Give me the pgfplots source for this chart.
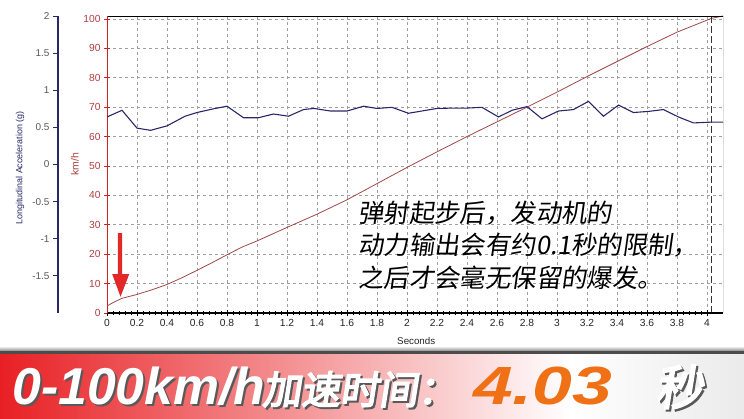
\documentclass[border=0pt]{standalone}
\usepackage{pgfplots}
\usepackage{pgfplotstable}
\pgfplotsset{compat=1.18}
\usepackage{fontspec}
\setmainfont{Liberation Sans}
\newfontfamily\cjkit[FakeSlant=0.14]{Noto Sans CJK SC}
\newfontfamily\cjkbold[FakeSlant=0.16,FakeBold=4]{Noto Sans CJK SC}
\definecolor{navyline}{RGB}{40,40,105}
\definecolor{kmred}{RGB}{205,35,35}
\definecolor{kmlabel}{RGB}{175,65,65}
\definecolor{speedc}{RGB}{160,72,72}
\definecolor{bannerred}{RGB}{232,32,36}
\definecolor{orangeT}{RGB}{240,112,22}
\definecolor{arrowred}{RGB}{226,40,40}

\pgfplotstableread{
t v
0 2.4
0.05 3.8
0.1 5.0
0.2 6.3
0.3 7.9
0.4 9.7
0.5 12.0
0.6 14.5
0.7 17.1
0.8 19.8
0.9 22.4
1.0 24.5
1.1 26.8
1.2 29.1
1.4 33.6
1.6 38.5
1.8 44.0
2.0 49.5
2.2 54.8
2.4 60.0
2.6 65.0
2.8 70.0
3.0 75.1
3.2 80.4
3.4 85.5
3.6 90.6
3.8 95.5
4.03 100.2
4.107 101.0
}\speedtab

\pgfplotstableread{
t g
0.00 0.64
0.10 0.73
0.20 0.49
0.29 0.46
0.40 0.52
0.52 0.65
0.60 0.70
0.71 0.75
0.80 0.785
0.91 0.63
1.01 0.63
1.11 0.68
1.21 0.65
1.31 0.74
1.38 0.755
1.49 0.72
1.60 0.72
1.71 0.785
1.80 0.755
1.90 0.77
2.01 0.69
2.20 0.755
2.31 0.76
2.40 0.76
2.50 0.77
2.61 0.64
2.70 0.73
2.80 0.78
2.90 0.615
3.01 0.72
3.11 0.74
3.21 0.85
3.31 0.65
3.41 0.80
3.51 0.70
3.61 0.715
3.71 0.74
3.81 0.64
3.91 0.56
4.02 0.57
4.107 0.57
}\acctab

\begin{document}
\begin{tikzpicture}[x=1bp,y=1bp]
\useasboundingbox (0,0) rectangle (744,418);
\fill[white] (0,0) rectangle (744,418);

% main km/h axis
\begin{axis}[
  at={(107bp,105bp)}, anchor=south west, scale only axis,
  width=616bp, height=297bp,
  xmin=0, xmax=4.107, ymin=0, ymax=101,
  xtick={0,0.2,0.4,0.6,0.8,1,1.2,1.4,1.6,1.8,2,2.2,2.4,2.6,2.8,3,3.2,3.4,3.6,3.8,4},
  xticklabels={0,0.2,0.4,0.6,0.8,1,1.2,1.4,1.6,1.8,2,2.2,2.4,2.6,2.8,3,3.2,3.4,3.6,3.8,4},
  ytick={0,10,20,30,40,50,60,70,80,90,100},
  minor x tick num=4,
  xtick pos=left, ytick pos=left,
  tick align=center,
  major tick length=6bp, minor tick length=4bp,
  xtick style={black, line width=0.6bp},
  ytick style={kmred, line width=0.8bp},
  axis line style={draw=none},
  grid=major,
  major grid style={gray!75, line width=0.6bp, dash pattern=on 3bp off 3bp},
  /pgf/number format/assume math mode=true,
  tick label style={font=\fontsize{10.3}{11}\selectfont},
  xticklabel style={text=black!85},
  yticklabel style={text=kmlabel},
  xlabel={Seconds}, ylabel={km/h},
  every axis x label/.style={at={(axis description cs:0.502,-0.094)}, anchor=center, font=\fontsize{9.8}{10}\selectfont, text=black!85},
  every axis y label/.style={at={(axis description cs:-0.052,0.5)}, rotate=90, anchor=center, font=\fontsize{10.5}{11}\selectfont, text=kmlabel},
]
\addplot[speedc, line width=0.8bp] table[x=t, y=v] {\speedtab};
\draw[black!80, line width=0.8bp, dash pattern=on 7bp off 3bp] (axis cs:4.03,0) -- (axis cs:4.03,101);
\draw[black, line width=0.9bp] (rel axis cs:0,1) -- (rel axis cs:1,1) -- (rel axis cs:1,0);
\draw[black, line width=3bp] (rel axis cs:0,0) -- (rel axis cs:1,0);
\draw[kmred, line width=2bp] (rel axis cs:0,0) -- (rel axis cs:0,1);
\end{axis}

% acceleration data axis (g)
\begin{axis}[
  at={(107bp,105bp)}, anchor=south west, scale only axis,
  width=616bp, height=297bp,
  xmin=0, xmax=4.107, ymin=-2, ymax=2,
  hide axis,
]
\addplot[navyline, line width=1.1bp] table[x=t, y=g] {\acctab};
\end{axis}

% blue g ruler
\begin{axis}[
  at={(58bp,105bp)}, anchor=south west, scale only axis,
  width=1bp, height=297bp,
  xmin=0, xmax=1, ymin=-2, ymax=2,
  axis y line=left, axis x line=none,
  ytick={-1.5,-1,-0.5,0,0.5,1,1.5,2},
  yticklabels={-1.5,-1,-0.5,0,0.5,1,1.5,2},
  tick align=outside, major tick length=5bp,
  ytick style={navyline, line width=0.8bp},
  y axis line style={navyline, line width=2bp, -},
  tick label style={font=\fontsize{10}{11}\selectfont, text=black!65},
]
\end{axis}

\node[rotate=90, text=navyline, font=\fontsize{9}{10}\selectfont] at (20,250) {Longitudinal Acceleration (g)};

% red arrow
\fill[arrowred] (117.8,185) -- (122.2,185) -- (122.2,144) -- (129.3,144) -- (120.5,121.3) -- (112.2,144) -- (117.8,144) -- cycle;

% annotation
\node[anchor=base west, inner sep=0, font=\cjkit\fontsize{25.5}{28}\selectfont] at (358,196) {弹射起步后，发动机的};
\node[anchor=base west, inner sep=0, font=\cjkit\fontsize{25.5}{28}\selectfont] at (358,164) {动力输出会有约0.1秒的限制，};
\node[anchor=base west, inner sep=0, font=\cjkit\fontsize{25.5}{28}\selectfont] at (358,131) {之后才会毫无保留的爆发。};

% banner
\shade[top color=white, bottom color=black!55] (0,66) rectangle (744,72);
\shade[left color=bannerred, right color=white] (0,0) rectangle (570,66);
\shade[left color=white, right color=black!8] (570,0) rectangle (744,66);
\fill[black!70] (0,64.5) rectangle (744,67);

% banner text: shadow then face
\begin{scope}[shift={(2,-2)}]
\node[anchor=base west, inner sep=0, text=black!65, font=\bfseries\itshape\fontsize{52}{56}\selectfont] at (12,14) {0-100km/h};
\node[anchor=base west, inner sep=0, text=black!65, font=\cjkbold\fontsize{39}{40}\selectfont] at (262,14) {加速时间：};
\node[anchor=base west, inner sep=0, text=black!65, font=\cjkbold\fontsize{48}{52}\selectfont] at (655,13) {秒};
\end{scope}
\node[anchor=base west, inner sep=0, text=white, font=\bfseries\itshape\fontsize{52}{56}\selectfont] at (12,14) {0-100km/h};
\node[anchor=base west, inner sep=0, text=white, font=\cjkbold\fontsize{39}{40}\selectfont] at (262,14) {加速时间：};
\node[anchor=base west, inner sep=0, text=orangeT, font=\bfseries\itshape\fontsize{54}{56}\selectfont] at (473,14) {\scalebox{1.33}[1]{4.03}};
\node[anchor=base west, inner sep=0, text=white, font=\cjkbold\fontsize{48}{52}\selectfont] at (655,13) {秒};
\end{tikzpicture}
\end{document}
